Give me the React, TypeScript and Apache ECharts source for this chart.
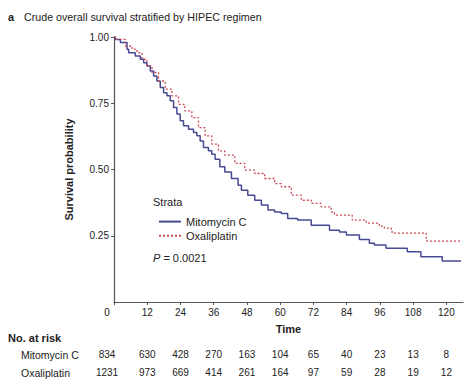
import React, { useEffect, useRef } from 'react';
import * as echarts from 'echarts';

const timeTicks = [0, 12, 24, 36, 48, 60, 72, 84, 96, 108, 120];
const yTicks = [0.25, 0.5, 0.75, 1.0];

const mitoTime = [0, 0.5, 2.3, 4.7, 5.3, 7.7, 9.5, 10.7, 11.9, 13.1, 14.3, 15.5, 16.7, 17.9, 19.1, 20.3, 21.5, 22.7, 23.9, 25.1, 26.9, 28.7, 29.9, 31.1, 32.3, 34.1, 35.3, 36.5, 38.2, 40.0, 42.4, 44.8, 46.0, 48.3, 50.8, 53.2, 55.6, 58.0, 60.4, 62.7, 66.3, 71.2, 77.8, 81.4, 83.9, 88.6, 92.2, 94.0, 98.2, 105.9, 110.8, 118.5, 125.3];
const mitoSurv = [1.0, 0.991, 0.979, 0.954, 0.941, 0.928, 0.916, 0.903, 0.891, 0.872, 0.853, 0.834, 0.809, 0.79, 0.778, 0.759, 0.734, 0.709, 0.684, 0.665, 0.652, 0.64, 0.627, 0.608, 0.583, 0.571, 0.558, 0.539, 0.51, 0.491, 0.466, 0.441, 0.422, 0.403, 0.384, 0.366, 0.347, 0.34, 0.334, 0.315, 0.309, 0.29, 0.271, 0.264, 0.253, 0.236, 0.222, 0.215, 0.203, 0.19, 0.171, 0.155, 0.155];

const oxaTime = [0, 0.5, 4.1, 6.5, 8.3, 10.1, 11.9, 13.7, 16.1, 18.5, 20.9, 23.3, 25.6, 28.1, 30.5, 32.9, 35.3, 37.7, 40.0, 43.6, 47.2, 50.8, 54.4, 58.0, 60.4, 64.0, 67.6, 71.2, 74.8, 78.4, 79.6, 86.0, 91.1, 95.8, 97.6, 100.1, 100.4, 112.7, 113.0, 125.3];
const oxaSurv = [1.0, 0.991, 0.966, 0.954, 0.941, 0.916, 0.891, 0.866, 0.834, 0.803, 0.778, 0.746, 0.721, 0.696, 0.658, 0.627, 0.596, 0.57, 0.554, 0.523, 0.498, 0.485, 0.466, 0.447, 0.435, 0.403, 0.384, 0.372, 0.359, 0.34, 0.328, 0.309, 0.298, 0.286, 0.279, 0.271, 0.26, 0.241, 0.23, 0.23];

const riskMito = [834, 630, 428, 270, 163, 104, 65, 40, 23, 13, 8];
const riskOxa = [1231, 973, 669, 414, 261, 164, 97, 59, 28, 19, 12];

const FONT = 'Liberation Sans, Arial, Helvetica, sans-serif';
const BLUE = '#474a94';
const RED = '#c94a58';
const AXIS = '#555555';
const TXT = '#222222';

const zeroRich = { z: { padding: [0, 14, 0, 0], fontSize: 10, fontFamily: FONT, color: TXT } };

function riskAxis(values: number[], offset: number) {
  return {
    type: 'value',
    gridIndex: 0,
    position: 'bottom',
    offset,
    min: 0,
    max: 126,
    axisLine: { show: false },
    axisTick: { show: false },
    splitLine: { show: false },
    axisLabel: {
      customValues: timeTicks,
      margin: 0,
      fontSize: 10,
      fontFamily: FONT,
      color: TXT,
      rich: zeroRich,
      formatter: (v: number) => {
        const i = timeTicks.indexOf(v);
        if (i < 0) return '';
        const s = String(values[i]);
        return i === 0 ? `{z|${s}}` : s;
      },
    },
  };
}

export default function App() {
  const ref = useRef<HTMLDivElement>(null);
  useEffect(() => {
    if (!ref.current) return;
    const chart = echarts.init(ref.current, null, { renderer: 'svg' });
    const mitoData = mitoTime.map((t, i) => [t, mitoSurv[i]]);
    const oxaData = oxaTime.map((t, i) => [t, oxaSurv[i]]);
    chart.setOption({
      animation: false,
      backgroundColor: '#ffffff',
      textStyle: { fontFamily: FONT },
      grid: { left: 114, right: 11, top: 37, bottom: 85 },
      xAxis: [
        {
          type: 'value',
          min: 0,
          max: 126,
          name: 'Time',
          nameLocation: 'middle',
          nameGap: 21,
          nameTextStyle: { fontSize: 11, fontWeight: 'bold', color: TXT, fontFamily: FONT },
          axisLine: { show: true, lineStyle: { color: AXIS, width: 1.2 } },
          axisTick: { show: true, customValues: timeTicks, length: 3, lineStyle: { color: AXIS } },
          splitLine: { show: false },
          axisLabel: {
            customValues: timeTicks,
            margin: 5,
            fontSize: 10,
            fontFamily: FONT,
            color: TXT,
            rich: zeroRich,
            formatter: (v: number) => (v === 0 ? '{z|0}' : String(v)),
          },
        },
        riskAxis(riskMito, 47),
        riskAxis(riskOxa, 65),
      ],
      yAxis: {
        type: 'value',
        min: 0,
        max: 1,
        name: 'Survival probability',
        nameLocation: 'middle',
        nameGap: 40,
        nameTextStyle: { fontSize: 11, fontWeight: 'bold', color: TXT, fontFamily: FONT },
        axisLine: { show: true, lineStyle: { color: AXIS, width: 1.2 } },
        axisTick: { show: true, customValues: yTicks, length: 3, lineStyle: { color: AXIS } },
        splitLine: { show: false },
        axisLabel: {
          customValues: yTicks,
          margin: 5,
          fontSize: 10,
          fontFamily: FONT,
          color: TXT,
          formatter: (v: number) => v.toFixed(2),
        },
      },
      legend: {
        show: true,
        orient: 'vertical',
        left: 153,
        top: 211,
        itemWidth: 22,
        itemHeight: 14,
        itemGap: 3,
        itemStyle: { opacity: 0 },
        textStyle: { fontSize: 11, color: TXT, fontFamily: FONT },
        data: ['Mitomycin C', 'Oxaliplatin'],
      },
      series: [
        {
          name: 'Mitomycin C',
          type: 'line',
          step: 'end',
          symbol: 'none',
          data: mitoData,
          lineStyle: { color: BLUE, width: 1.5 },
          itemStyle: { color: BLUE },
        },
        {
          name: 'Oxaliplatin',
          type: 'line',
          step: 'end',
          symbol: 'none',
          data: oxaData,
          lineStyle: { color: RED, width: 1.3, type: [2, 2] },
          itemStyle: { color: RED },
        },
      ],
      graphic: [
        { type: 'text', x: 8, y: 17, style: { text: 'a', fontSize: 11, fontWeight: 'bold', fill: TXT, fontFamily: FONT, verticalAlign: 'middle' } },
        { type: 'text', x: 24, y: 17, style: { text: 'Crude overall survival stratified by HIPEC regimen', fontSize: 10.7, fill: TXT, fontFamily: FONT, verticalAlign: 'middle' } },
        { type: 'text', x: 153, y: 202, style: { text: 'Strata', fontSize: 11, fill: TXT, fontFamily: FONT, verticalAlign: 'middle' } },
        {
          type: 'text', x: 153, y: 258,
          style: {
            text: '{i|P} = 0.0021',
            fontSize: 11, fill: TXT, fontFamily: FONT, verticalAlign: 'middle',
            rich: { i: { fontStyle: 'italic', fontSize: 11, fontFamily: FONT, fill: TXT } },
          },
        },
        { type: 'text', x: 8, y: 338, style: { text: 'No. at risk', fontSize: 11, fontWeight: 'bold', fill: TXT, fontFamily: FONT, verticalAlign: 'middle' } },
        { type: 'text', x: 21, y: 355, style: { text: 'Mitomycin C', fontSize: 10.5, fill: TXT, fontFamily: FONT, verticalAlign: 'middle' } },
        { type: 'text', x: 21, y: 373, style: { text: 'Oxaliplatin', fontSize: 10.5, fill: TXT, fontFamily: FONT, verticalAlign: 'middle' } },
      ],
    });
    return () => chart.dispose();
  }, []);
  return <div ref={ref} style={{ position: 'fixed', left: 0, top: 0, width: 474, height: 387 }} />;
}
